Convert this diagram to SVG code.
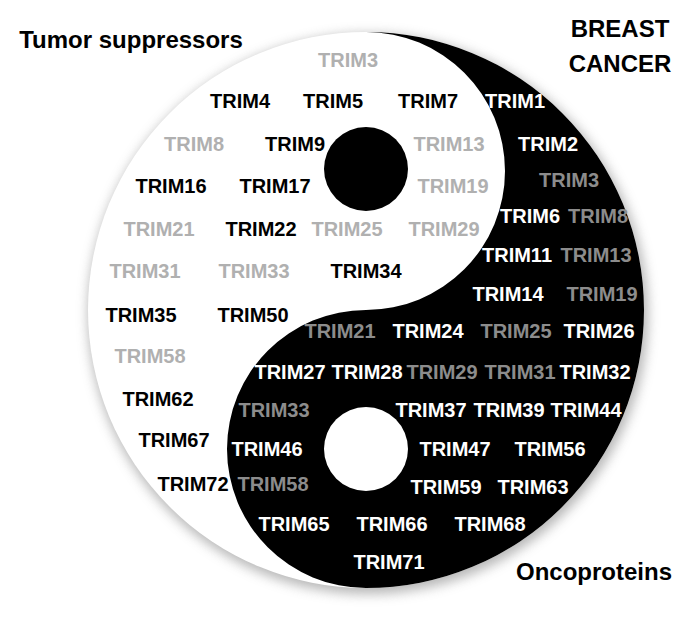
<svg xmlns="http://www.w3.org/2000/svg" width="685" height="618" viewBox="0 0 685 618">
<defs>
<filter id="sh" x="-20%" y="-20%" width="140%" height="140%"><feGaussianBlur stdDeviation="6"/></filter>
<style>
text{font-family:"Liberation Sans",Arial,sans-serif;font-weight:bold;font-size:20px;text-anchor:middle}
.b{fill:#000}.g{fill:#b0b0b0}.w{fill:#fff}.d{fill:#8c8c8c}
.t{font-size:24px;fill:#000}
</style>
</defs>
<rect width="685" height="618" fill="#fff"/>
<g id="yinyang">
<circle cx="368" cy="314" r="280" fill="#999" filter="url(#sh)" opacity="0.7"/>
<circle cx="366" cy="310" r="278" fill="#fff"/>
<path d="M366,32 A139,139 0 0 1 366,310 A139,139 0 0 0 366,588 A278,278 0 0 0 366,32 Z" fill="#000"/>
<circle cx="366" cy="169" r="42" fill="#000"/>
<circle cx="366" cy="449" r="42" fill="#fff"/>
</g>
<g id="labels">
<text class="t" x="131" y="48">Tumor suppressors</text>
<text class="t" x="620" y="37">BREAST</text>
<text class="t" x="620" y="72">CANCER</text>
<text class="t" x="594" y="580">Oncoproteins</text>
</g>
<g id="tumor-suppressors">
<text class="g" x="348" y="67">TRIM3</text>
<text class="b" x="240" y="108">TRIM4</text>
<text class="b" x="333" y="108">TRIM5</text>
<text class="b" x="428" y="108">TRIM7</text>
<text class="g" x="194" y="151">TRIM8</text>
<text class="b" x="295" y="151">TRIM9</text>
<text class="g" x="449" y="151">TRIM13</text>
<text class="b" x="171" y="193">TRIM16</text>
<text class="b" x="275" y="193">TRIM17</text>
<text class="g" x="453" y="193">TRIM19</text>
<text class="g" x="159" y="236">TRIM21</text>
<text class="b" x="261" y="236">TRIM22</text>
<text class="g" x="347" y="236">TRIM25</text>
<text class="g" x="444" y="236">TRIM29</text>
<text class="g" x="145" y="278">TRIM31</text>
<text class="g" x="254" y="278">TRIM33</text>
<text class="b" x="366" y="278">TRIM34</text>
<text class="b" x="141" y="322">TRIM35</text>
<text class="b" x="253" y="322">TRIM50</text>
<text class="g" x="150" y="363">TRIM58</text>
<text class="b" x="158" y="406">TRIM62</text>
<text class="b" x="174" y="447">TRIM67</text>
<text class="b" x="193" y="491">TRIM72</text>
</g>
<g id="oncoproteins">
<text class="w" x="515" y="108">TRIM1</text>
<text class="w" x="548" y="151">TRIM2</text>
<text class="d" x="569" y="187">TRIM3</text>
<text class="w" x="530" y="223">TRIM6</text>
<text class="d" x="598" y="223">TRIM8</text>
<text class="w" x="517" y="262">TRIM11</text>
<text class="d" x="596" y="262">TRIM13</text>
<text class="w" x="508" y="301">TRIM14</text>
<text class="d" x="602" y="301">TRIM19</text>
<text class="d" x="340" y="338">TRIM21</text>
<text class="w" x="428" y="338">TRIM24</text>
<text class="d" x="516" y="338">TRIM25</text>
<text class="w" x="599" y="338">TRIM26</text>
<text class="w" x="290" y="379">TRIM27</text>
<text class="w" x="367" y="379">TRIM28</text>
<text class="d" x="442" y="379">TRIM29</text>
<text class="d" x="520" y="379">TRIM31</text>
<text class="w" x="595" y="379">TRIM32</text>
<text class="d" x="274" y="417">TRIM33</text>
<text class="w" x="431" y="417">TRIM37</text>
<text class="w" x="509" y="417">TRIM39</text>
<text class="w" x="586" y="417">TRIM44</text>
<text class="w" x="267" y="456">TRIM46</text>
<text class="w" x="455" y="456">TRIM47</text>
<text class="w" x="550" y="456">TRIM56</text>
<text class="d" x="273" y="491">TRIM58</text>
<text class="w" x="446" y="494">TRIM59</text>
<text class="w" x="533" y="494">TRIM63</text>
<text class="w" x="294" y="531">TRIM65</text>
<text class="w" x="392" y="531">TRIM66</text>
<text class="w" x="490" y="531">TRIM68</text>
<text class="w" x="389" y="569">TRIM71</text>
</g>
</svg>
